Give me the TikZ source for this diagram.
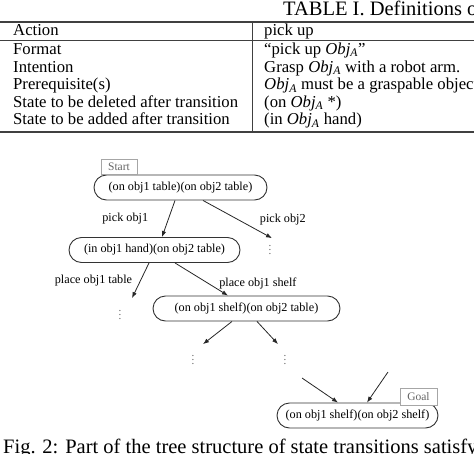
\documentclass[tikz,border=0pt]{standalone}
\usepackage{fontspec}
\setmainfont{Liberation Serif}
\usetikzlibrary{arrows.meta,calc}
\newcommand{\objA}{\textit{Obj}\textsubscript{\textit{A}}}
\begin{document}
\begin{tikzpicture}[x=1pt,y=-1pt,
tcell/.style={anchor=base west,inner sep=0pt,font=\fontsize{16.7}{18}\selectfont},
big/.style={anchor=base west,inner sep=0pt,font=\fontsize{20.5}{22}\selectfont},
state/.style={draw=black!80,line width=0.9pt,rounded corners=12.5pt,minimum height=25pt,inner xsep=0pt,font=\fontsize{12.2}{14}\selectfont},
tag/.style={draw=black!35,line width=0.8pt,fill=white,text=black!60,inner sep=0pt,minimum height=15pt,font=\fontsize{11.5}{13}\selectfont},
act/.style={inner sep=0pt,font=\fontsize{12.2}{14}\selectfont},
more/.style={inner sep=0pt,text=black!60,font=\fontsize{11}{12}\selectfont},
trans/.style={draw=black!85,line width=0.8pt,-{Latex[length=6pt,width=4.5pt]}}]
\useasboundingbox (0,0) rectangle (474,453);
% table
\node[big] (title) at (283,15) {TABLE I. Definitions of};
\draw[line width=1.2pt,black!75] (0,22) -- (474,22);
\draw[line width=0.9pt,black!75] (0,40.5) -- (474,40.5);
\draw[line width=1.2pt,black!75] (0,132) -- (474,132);
\draw[line width=0.9pt,black!75] (252,22) -- (252,132);
\node[tcell] (k1) at (13,35) {Action};
\node[tcell] (k2) at (13,54) {Format};
\node[tcell] (k3) at (13,72) {Intention};
\node[tcell] (k4) at (13,89.5) {Prerequisite(s)};
\node[tcell] (k5) at (13,107) {State to be deleted after transition};
\node[tcell] (k6) at (13,124.5) {State to be added after transition};
\node[tcell] (v1) at (264,35) {pick up};
\node[tcell] (v2) at (264,54) {``pick up \objA''};
\node[tcell] (v3) at (264,72) {Grasp \objA{} with a robot arm.};
\node[tcell] (v4) at (264,89.5) {\objA{} must be a graspable object.};
\node[tcell] (v5) at (264,107) {(on \objA{} *)};
\node[tcell] (v6) at (264,124.5) {(in \objA{} hand)};
% tree of states
\node[state,minimum width=173pt] (root) at (180.5,187.5) {(on obj1 table)(on obj2 table)};
\node[tag,minimum width=36pt,anchor=south] (start) at (119,175) {Start};
\node[state,minimum width=171pt] (hand) at (154.5,250) {(in obj1 hand)(on obj2 table)};
\node[state,minimum width=187pt] (shelf) at (246.5,308.5) {(on obj1 shelf)(on obj2 table)};
\node[state,minimum width=161pt] (goal) at (357.5,415.5) {(on obj1 shelf)(on obj2 shelf)};
\node[tag,minimum width=37pt,minimum height=17pt] (goaltag) at (418.5,396.5) {Goal};
\node[more] (m2) at (270,247) {$\vdots$};
\node[more] (m1) at (120,312) {$\vdots$};
\node[more] (m3) at (193,357) {$\vdots$};
\node[more] (m4) at (285,357) {$\vdots$};
\coordinate (in1) at (302,378);
\coordinate (in2) at (388,372);
\draw[trans] ([xshift=-5.5pt]root.south) to node[act,midway,left=20pt]{pick obj1} ([xshift=7.5pt]hand.north);
\draw[trans] ([xshift=22.5pt]root.south) to node[act,midway,right=22pt]{pick obj2} ($(m2.north)+(2,-1)$);
\draw[trans] ([xshift=-5.5pt]hand.south) to node[act,midway,left=8pt]{place obj1 table} ($(m1.north)+(12,-6)$);
\draw[trans] ([xshift=20.5pt]hand.south) to node[act,pos=0.62,right=11pt]{place obj1 shelf} ([xshift=-18.5pt]shelf.north);
\draw[trans] ([xshift=-14.5pt]shelf.south) to ($(m3.north)+(10,-5)$);
\draw[trans] ([xshift=10.5pt]shelf.south) to ($(m4.north)+(-7,-5)$);
\draw[trans] (in1) to ([xshift=-19.5pt]goal.north);
\draw[trans] (in2) to ([xshift=9.5pt]goal.north);
% caption
\node[big] (cap) at (3,453) {Fig. 2: Part of the tree structure of state transitions satisfying};
\end{tikzpicture}
\end{document}
